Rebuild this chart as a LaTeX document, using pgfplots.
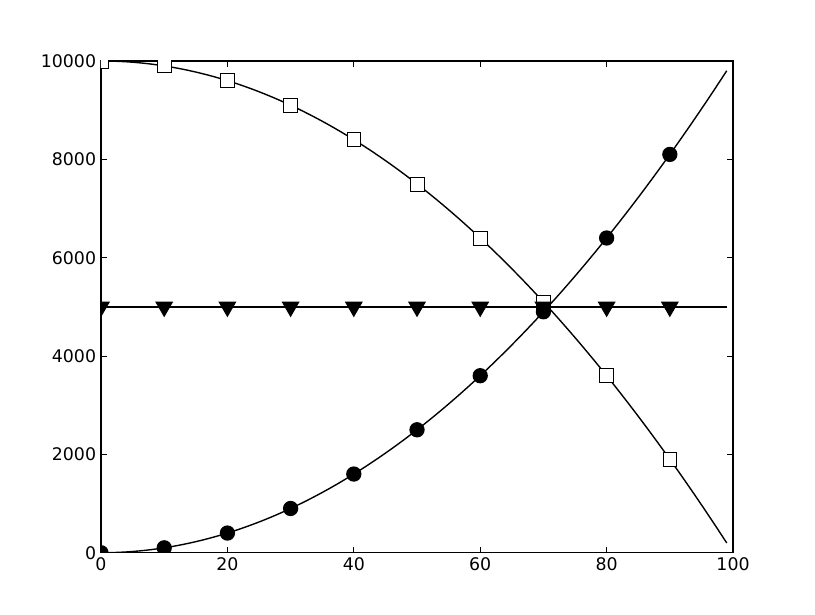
\documentclass[border=0pt]{standalone}
\usepackage{fontspec}
\setmainfont{DejaVu Sans}
\usepackage{pgfplots}
\pgfplotsset{compat=1.18}
\usepackage{pgfplotstable}

% x, x^2, 10000 - x^2
\pgfplotstableread{
x a b
0 0 10000
1 1 9999
2 4 9996
3 9 9991
4 16 9984
5 25 9975
6 36 9964
7 49 9951
8 64 9936
9 81 9919
10 100 9900
11 121 9879
12 144 9856
13 169 9831
14 196 9804
15 225 9775
16 256 9744
17 289 9711
18 324 9676
19 361 9639
20 400 9600
21 441 9559
22 484 9516
23 529 9471
24 576 9424
25 625 9375
26 676 9324
27 729 9271
28 784 9216
29 841 9159
30 900 9100
31 961 9039
32 1024 8976
33 1089 8911
34 1156 8844
35 1225 8775
36 1296 8704
37 1369 8631
38 1444 8556
39 1521 8479
40 1600 8400
41 1681 8319
42 1764 8236
43 1849 8151
44 1936 8064
45 2025 7975
46 2116 7884
47 2209 7791
48 2304 7696
49 2401 7599
50 2500 7500
51 2601 7399
52 2704 7296
53 2809 7191
54 2916 7084
55 3025 6975
56 3136 6864
57 3249 6751
58 3364 6636
59 3481 6519
60 3600 6400
61 3721 6279
62 3844 6156
63 3969 6031
64 4096 5904
65 4225 5775
66 4356 5644
67 4489 5511
68 4624 5376
69 4761 5239
70 4900 5100
71 5041 4959
72 5184 4816
73 5329 4671
74 5476 4524
75 5625 4375
76 5776 4224
77 5929 4071
78 6084 3916
79 6241 3759
80 6400 3600
81 6561 3439
82 6724 3276
83 6889 3111
84 7056 2944
85 7225 2775
86 7396 2604
87 7569 2431
88 7744 2256
89 7921 2079
90 8100 1900
91 8281 1719
92 8464 1536
93 8649 1351
94 8836 1164
95 9025 975
96 9216 784
97 9409 591
98 9604 396
99 9801 199
}\curves

\begin{document}
\begin{tikzpicture}
\begin{axis}[
  name=ax,
  scale only axis,
  width=455pt, height=354pt,
  xmin=0, xmax=100, ymin=0, ymax=10000,
  xtick={0,20,...,100},
  ytick={0,2000,...,10000},
  tick align=inside,
  major tick length=4pt,
  tick style={black, line width=0.5pt},
  axis line style={line width=1pt},
  scaled ticks=false,
  /pgf/number format/1000 sep={},
  /pgf/number format/assume math mode=true,
  ticklabel style={font=\fontsize{12.5}{14}\selectfont},
  clip marker paths=true,
  every axis plot/.append style={line width=1pt, black},
]
\addplot[mark=square*, mark options={fill=white, line width=0.5pt}, mark size=5pt, mark repeat=10]
  table[x=x, y=b] {\curves};
\addplot[mark=*, mark options={fill=black}, mark size=5pt, mark repeat=10]
  table[x=x, y=a] {\curves};
\addplot[no marks] coordinates {(0,5000) (99,5000)};
\addplot[only marks, mark=triangle*, mark options={fill=black, rotate=180}, mark size=6.5pt]
  coordinates {(0,5000) (10,5000) (20,5000) (30,5000) (40,5000)
               (50,5000) (60,5000) (70,5000) (80,5000) (90,5000)};
\end{axis}
\pgfresetboundingbox
\path[use as bounding box] ([xshift=-72.7pt,yshift=-44.6pt]ax.south west)
  rectangle ([xshift=59pt,yshift=43.9pt]ax.north east);
\end{tikzpicture}
\end{document}
